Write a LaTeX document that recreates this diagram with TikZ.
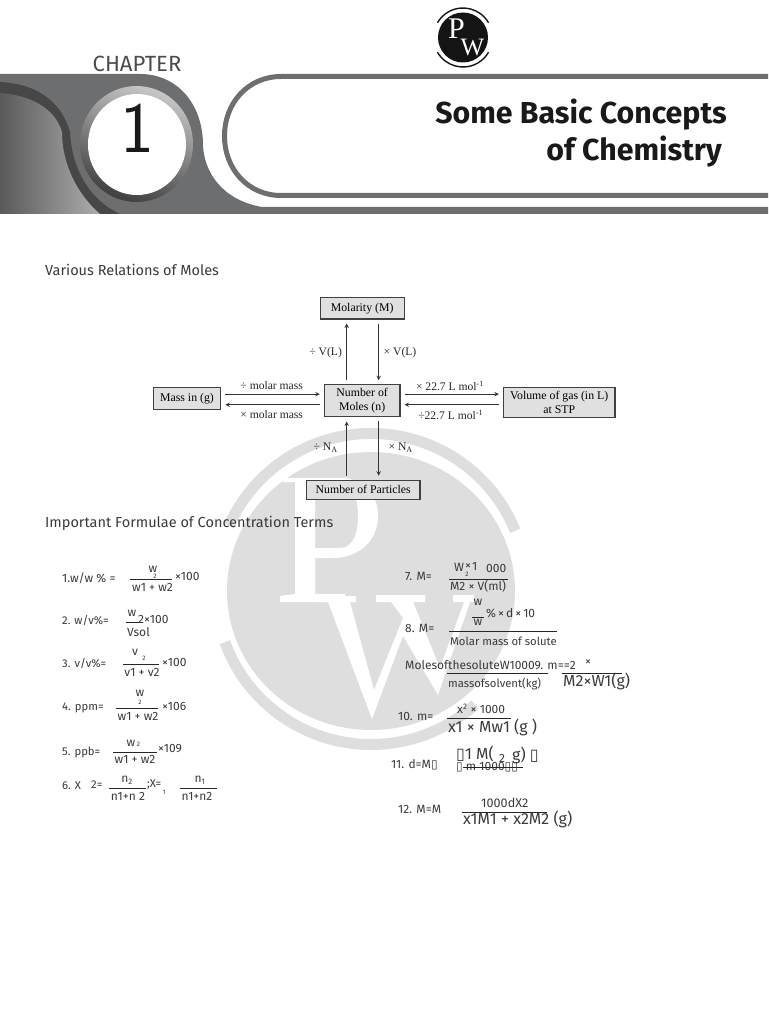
\documentclass[tikz,border=0pt]{standalone}
\usepackage{fontspec}
\setmainfont{Fira Sans}
\newfontfamily\serifdiag{Liberation Serif}
\newfontfamily\boxfont{DejaVu Sans}
\usetikzlibrary{positioning}
\definecolor{bandgray}{HTML}{6D6E70}
\definecolor{markgray}{HTML}{DEDEDE}
\definecolor{inkgray}{HTML}{3A3A3A}
\tikzset{
    fs/.style={font=\fontsize{#1}{#1}\selectfont},
    item/.style={anchor=west,inner sep=0pt,text=inkgray,fs=11.3},
    ritem/.style={anchor=west,inner sep=0pt,text=inkgray,fs=12},
    piece/.style={inner sep=0pt,text=inkgray,fs=12},
    tiny2/.style={inner sep=0pt,text=inkgray,fs=6.5},
    bigpiece/.style={anchor=west,inner sep=0pt,text=inkgray,fs=16},
    heading/.style={anchor=west,inner sep=0pt,text=inkgray,fs=14.5},
    fracline/.style={black!85,line width=0.8pt},
    quantity/.style={draw=black!75,fill=black!12,line width=1.2pt,inner sep=0pt,align=center,font=\serifdiag\fontsize{11.8}{14}\selectfont},
    rel/.style={inner sep=0pt,text=black!85,font=\serifdiag\fontsize{11.6}{12}\selectfont},
    flow/.style={-stealth,black!80,line width=1pt,shorten <=4pt,shorten >=4pt},
    wmark/.style={markgray,line width=11pt},
}

\begin{document}
\begin{tikzpicture}[x=1pt,y=-1pt]
                \useasboundingbox (0,0) rectangle (768,1024);
                % watermark
                \coordinate (wmc) at (371,589);
                \fill[markgray] (371,591) ellipse[x radius=144pt,y radius=139pt];
                \draw[wmark] (wmc) ++(22:155.5pt) arc[start angle=22,end angle=156,radius=155.5pt];
                \draw[wmark] (wmc) ++(200:155.5pt) arc[start angle=200,end angle=312,radius=155.5pt];
                \fill[white] (283,478) -- (340,478) -- (340,482) -- (315,482) -- (315,548) -- (340,548) .. controls (354,548) and (358,532) .. (358,515) .. controls (358,498) and (352,482) .. (335,482) -- (335,478) -- (345,478) .. controls (368,482) and (378,498) .. (378,516) .. controls (378,540) and (360,558) .. (332,558) -- (315,558) -- (315,594) -- (345,594) -- (345,602) -- (280,602) -- (280,596) -- (295,594) -- (295,482) -- (283,482) -- cycle;
                \fill[white] (318,596) -- (356,596) -- (356,602) -- (350,602) -- (374,690) -- (403,618) -- (391,602) -- (376,602) -- (376,595) -- (425,595) -- (425,602) -- (413,602) -- (440,668) -- (464,602) -- (453,602) -- (453,595) -- (474,595) -- (474,602) -- (470,602) -- (438,695) -- (403,636) -- (372,719) -- (328,602) -- (318,602) -- cycle;
                % header band
                \fill[bandgray] (0,74) -- (140,74) .. controls (178,74) and (203,105) .. (203,145) .. controls (204,172) and (222,200) .. (262,207) -- (768,207) -- (768,214) -- (0,214) -- cycle;
                \draw[bandgray,line width=5pt] (768,76.5) -- (281,76.5) .. controls (248,76.5) and (224.5,103) .. (224.5,136) .. controls (224.5,169) and (248,195.5) .. (281,195.5) -- (768,195.5);
                \fill[black!72] (0,82) .. controls (40,84) and (62,104) .. (70,132) .. controls (72,170) and (90,200) .. (120,214) -- (0,214) -- cycle;
                \shade[left color=black!65,right color=black!32] (0,93) .. controls (30,95) and (55,108) .. (62,132) .. controls (62,165) and (78,195) .. (100,214) -- (0,214) -- cycle;
                \shade[top color=black!22,bottom color=black!75,shading angle=-20] (136.5,144) ellipse[x radius=56.5pt,y radius=58pt];
                \fill[white] (137,144.5) ellipse[x radius=49pt,y radius=50.5pt];
                \node[inner sep=0pt,text=black!70,fs=22] (chapter) at (137,64) {CHAPTER};
                \node[inner sep=0pt,text=black!90,font=\sffamily\fontsize{72}{72}\selectfont] (chapnum) at (137.5,128) {1};
                \node[inner sep=0pt,text=black!90,anchor=east,font=\bfseries\fontsize{30.3}{30.3}\selectfont] (titlea) at (727,115) {Some Basic Concepts};
                \node[inner sep=0pt,text=black!90,anchor=east,font=\bfseries\fontsize{30.3}{30.3}\selectfont] (titleb) at (722,152) {of Chemistry};
                % logo
                \coordinate (logoc) at (463,37.5);
                \fill[black!92] (logoc) circle (25pt);
                \draw[black!92,line width=1.4pt] (logoc) ++(30:29.5pt) arc[start angle=30,end angle=150,radius=29.5pt];
                \draw[black!92,line width=1.4pt] (logoc) ++(210:29.5pt) arc[start angle=210,end angle=330,radius=29.5pt];
                \node[inner sep=0pt,text=white,font=\serifdiag\fontsize{30}{30}\selectfont] (logop) at (456.5,29) {P};
                \node[inner sep=0pt,text=white,font=\serifdiag\fontsize{25}{25}\selectfont] (logow) at (472.5,48) {W};
                % relations
                \node[heading] (headrel) at (45,270) {Various Relations of Moles};
                \node[heading] (headconc) at (45,523.5) {Important Formulae of Concentration Terms};
                \node[quantity,minimum width=84pt,minimum height=21.5pt] (molarity) at (362.15,308.2) {Molarity (M)};
                \node[quantity,minimum width=75.5pt,minimum height=32pt] (moles) at (362.15,400.85) {Number of\\Moles (n)};
                \node[quantity,minimum width=67.5pt,minimum height=22.5pt] (mass) at (187,398.6) {Mass in (g)};
                \node[quantity,minimum width=111.5pt,minimum height=30pt] (volume) at (559.2,402.2) {Volume of gas (in L)\\at STP};
                \node[quantity,minimum width=113.5pt,minimum height=19pt] (particles) at (363.2,489.8) {Number of Particles};
                \draw[flow] ([xshift=-15.5pt]moles.north) -- ([xshift=-15.5pt]moles.north |- molarity.south);
                \draw[flow] ([xshift=16.5pt]moles.north |- molarity.south) -- ([xshift=16.5pt]moles.north);
                \draw[flow] ([xshift=-15.5pt]moles.south |- particles.north) -- ([xshift=-15.5pt]moles.south);
                \draw[flow] ([xshift=16.5pt]moles.south) -- ([xshift=16.5pt]moles.south |- particles.north);
                \draw[flow] ([yshift=6.7pt]moles.west -| mass.east) -- ([yshift=6.7pt]moles.west);
                \draw[flow] ([yshift=-3.9pt]moles.west) -- ([yshift=-3.9pt]moles.west -| mass.east);
                \draw[flow] ([yshift=6.7pt]moles.east) -- ([yshift=6.7pt]moles.east -| volume.west);
                \draw[flow] ([yshift=-3.9pt]moles.east -| volume.west) -- ([yshift=-3.9pt]moles.east);
                \node[rel] (divv) at (325.7,353) {÷ V(L)};
                \node[rel] (mulv) at (400,353) {× V(L)};
                \node[rel] (divmass) at (271.7,386) {÷ molar mass};
                \node[rel] (mulmass) at (271.7,415) {× molar mass};
                \node[rel] (mulgas) at (450,386) {× 22.7 L mol\textsuperscript{-1}};
                \node[rel] (divgas) at (450.7,414.7) {÷22.7 L mol\textsuperscript{-1}};
                \node[rel] (divna) at (325.7,448) {÷ N\textsubscript{A}};
                \node[rel] (mulna) at (400.7,448) {× N\textsubscript{A}};
                % left column
                \node[item,fs=12] (ia) at (62,578) {1.w/w \% =};
                \node[piece] (iatop) at (153,569) {w};
                \node[tiny2] (iasub) at (155,576) {2};
                \draw[fracline] (130,579) -- (172.3,579);
                \node[piece] (iabot) at (152.5,587.5) {w1 + w2};
                \node[ritem] (iaend) at (175,576.5) {×100};
                \node[item] (ib) at (62,621) {2. w/v\%=};
                \node[piece] (ibtop) at (132,613) {w};
                \draw[fracline] (126,622) -- (143,622);
                \node[ritem] (ibend) at (138,619.5) {2×100};
                \node[ritem] (ibbot) at (127,632) {Vsol};
                \node[item] (ic) at (62,664) {3. v/v\%=};
                \node[piece] (ictop) at (135,652) {v};
                \node[tiny2] (icsub) at (144,658) {2};
                \draw[fracline] (123,664) -- (159,664);
                \node[piece] (icbot) at (142,672) {v1 + v2};
                \node[ritem] (icend) at (162,662) {×100};
                \node[item] (id) at (62,708) {4. ppm=};
                \node[piece] (idtop) at (140,693) {w};
                \node[tiny2] (idsub) at (140,702) {2};
                \draw[fracline] (116,708) -- (158,708);
                \node[piece] (idbot) at (138,716) {w1 + w2};
                \node[ritem] (idend) at (162,706) {×106};
                \node[item] (ie) at (62,752) {5. ppb=};
                \node[piece] (ietop) at (131,743) {w};
                \node[tiny2] (iesub) at (138.5,744) {2};
                \draw[fracline] (113,752) -- (157,752);
                \node[piece] (iebot) at (135,759) {w1 + w2};
                \node[ritem] (ieend) at (158,749) {×109};
                \node[item] (ifa) at (62,786) {6. X};
                \node[item] (ifb) at (91,785) {2=};
                \node[piece] (iftop) at (127,780) {n\textsubscript{2}};
                \draw[fracline] (109,788) -- (146,788);
                \node[piece] (ifbot) at (128,796) {n1+n 2};
                \node[item] (ifc) at (147,785) {;X=};
                \node[tiny2] (ifsub) at (164,792) {1};
                \node[piece] (ifrtop) at (200,780) {n\textsubscript{1}};
                \draw[fracline] (180,788) -- (217,788);
                \node[piece] (ifrbot) at (197,796) {n1+n2};
                % right column
                \node[ritem] (iga) at (405,576) {7. M=};
                \node[ritem] (igtop) at (454,567) {W};
                \node[tiny2] (igsub) at (467,574.5) {2};
                \node[piece] (igx) at (468,566.5) {×};
                \node[ritem] (igone) at (472,566.5) {1};
                \node[ritem] (igzero) at (486,568) {000};
                \draw[fracline] (449,579) -- (508,579);
                \node[piece] (igbot) at (478,586) {M2 × V(ml)};
                \node[ritem] (iha) at (405,628) {8. M=};
                \node[piece] (ihw) at (478,602) {w};
                \draw[fracline] (472,617) -- (484,617);
                \node[piece] (ihww) at (478,622) {w};
                \node[ritem] (ihtop) at (486,613) {\%\,×\,d\,×\,10};
                \draw[fracline] (449,631) -- (557,631);
                \node[item] (ihbot) at (450,641) {Molar mass of solute};
                \node[ritem] (iia) at (405,665) {MolesofthesoluteW10009. m==2};
                \node[piece] (iix) at (588,663) {×};
                \draw[fracline] (447,673) -- (548,673);
                \node[item] (iibot) at (448,684) {massofsolvent(kg)};
                \draw[fracline] (562,673) -- (622,673);
                \node[bigpiece] (iiend) at (563,681) {M2×W1(g)};
                \node[ritem] (ija) at (398,716) {10. m=};
                \node[ritem] (ijtop) at (457,709) {x\textsuperscript{2} × 1000};
                \draw[fracline] (447,718) -- (511,718);
                \node[bigpiece] (ijbot) at (448,727.5) {x1 × Mw1 (g )};
                \node[ritem] (ika) at (391,765) {11. d=M{\boxfont ▯}};
                \node[bigpiece] (iktop) at (456,754) {{\boxfont ▯}1 M(};
                \node[piece] (iktwo) at (502,758) {2};
                \node[bigpiece] (ikend) at (512,755) {g) {\boxfont ▯}};
                \node[ritem] (ikbot) at (456,767) {{\boxfont ▯} m 1000{\boxfont ▯▯}};
                \draw[fracline] (463,767) -- (523,767);
                \node[ritem] (ila) at (398,809) {12. M=M};
                \node[piece,anchor=west,fs=12.6] (iltop) at (481,803) {1000dX2};
                \draw[fracline] (462,812) -- (547,812);
                \node[bigpiece] (ilbot) at (463,819.5) {x1M1 + x2M2 (g)};
\end{tikzpicture}
\end{document}
